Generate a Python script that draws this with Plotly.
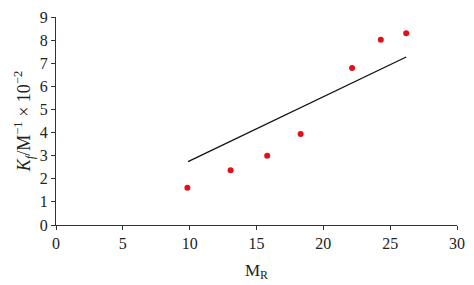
import plotly.graph_objects as go

# Data
mr_values = [9.83, 13.06, 15.8, 18.3, 22.15, 24.3, 26.2]
kf_values = [1.61, 2.37, 3.0, 3.94, 6.79, 8.02, 8.3]
trend_x = [9.88, 26.2]
trend_y = [2.74, 7.27]
r2_label = "<i>R</i><sup>2</sup> = 0.8027"
x_ticks = [0, 5, 10, 15, 20, 25, 30]
y_ticks = [0, 1, 2, 3, 4, 5, 6, 7, 8, 9]

FONT = "Liberation Serif"

fig = go.Figure()
fig.add_trace(go.Scatter(x=trend_x, y=trend_y, mode="lines",
                         line=dict(color="#111111", width=1.3), showlegend=False))
fig.add_trace(go.Scatter(x=mr_values, y=kf_values, mode="markers",
                         marker=dict(color="#e3101c", size=6), showlegend=False))

fig.add_annotation(x=20.9, y=9.05, text=r2_label, showarrow=False,
                   xanchor="center", yanchor="middle",
                   font=dict(family=FONT, size=16, color="#222222"))

axis_common = dict(showline=True, linecolor="#333333", linewidth=1,
                   ticks="outside", ticklen=4, tickcolor="#333333",
                   showgrid=False, zeroline=False,
                   tickfont=dict(family=FONT, size=16, color="#222222"))

fig.update_xaxes(range=[0, 30], tickvals=x_ticks,
                 title=dict(text="M<sub>R</sub>", font=dict(family=FONT, size=17, color="#222222"), standoff=12),
                 **axis_common)
fig.update_yaxes(range=[0, 9], tickvals=y_ticks,
                 title=dict(text="<i>K</i><sub><i>f</i></sub>/M<sup>−1</sup> × 10<sup>−2</sup>",
                            font=dict(family=FONT, size=18, color="#222222"), standoff=4),
                 **axis_common)

fig.update_layout(width=474, height=285, plot_bgcolor="white", paper_bgcolor="white",
                  margin=dict(l=56, r=9, t=13, b=60))

fig.write_html("out.html")
